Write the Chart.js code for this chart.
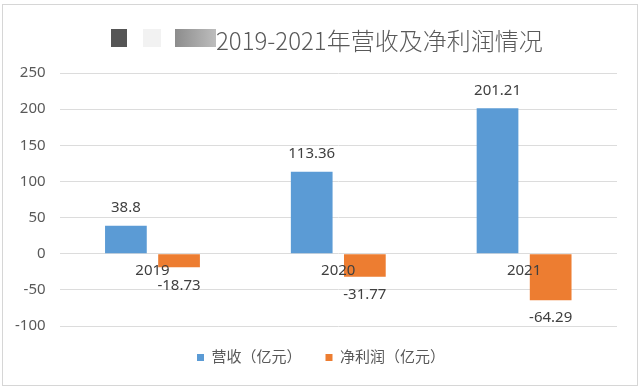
<!DOCTYPE html>
<html>
<head>
<meta charset="utf-8">
<script src="https://cdn.jsdelivr.net/npm/chart.js@4.4.0/dist/chart.umd.min.js"></script>
<style>
    html, body { margin: 0; padding: 0; background: #fff; }
    #wrap { position: relative; width: 640px; height: 389px; overflow: hidden; }
    #frame { position: absolute; left: 2px; top: 4px; width: 634px; height: 380px; border: 1px solid #d6d6d6; pointer-events: none; }
    #title { position: absolute; left: 216px; top: 24px; font: 300 24px "Noto Sans CJK SC", "Noto Sans", sans-serif; color: #595959; line-height: 32px; white-space: nowrap; }
    .mask { position: absolute; top: 29px; height: 18px; }
</style>
</head>
<body>
<div id="wrap">
    <canvas id="chart" width="640" height="389"></canvas>
    <div class="mask" style="left:111px;width:16px;background:#555;"></div>
    <div class="mask" style="left:143px;width:18px;background:#f2f2f2;"></div>
    <div class="mask" style="left:175px;width:41px;background:linear-gradient(90deg,#8c8c8c,#bdbdbd);"></div>
    <div id="title">2019-2021年营收及净利润情况</div>
    <div id="frame"></div>
</div>
<script>
// 数据
const years = ['2019', '2020', '2021'];
const revenue = [38.8, 113.36, 201.21];
const netProfit = [-18.73, -31.77, -64.29];
const seriesNames = ['营收（亿元）', '净利润（亿元）'];

const FONT = '"Noto Sans", "Noto Sans CJK SC", sans-serif';

// 柱子上方/下方的数值标签
const valueLabels = {
    id: 'valueLabels',
    afterDatasetsDraw(chart) {
        const ctx = chart.ctx;
        ctx.save();
        ctx.font = '15px ' + FONT;
        ctx.fillStyle = '#404040';
        ctx.textAlign = 'center';
        ctx.textBaseline = 'middle';
        chart.data.datasets.forEach((ds, i) => {
            chart.getDatasetMeta(i).data.forEach((bar, j) => {
                const v = ds.data[j];
                const y = v >= 0 ? bar.y - 18 : bar.y + 18;
                ctx.fillText(String(v), bar.x, y);
            });
        });
        ctx.restore();
    }
};

// 图例整体右移一点
const legendShift = {
    id: 'legendShift',
    afterLayout(chart) {
        if (chart.legend) {
            chart.legend.left += 12;
            chart.legend.right += 12;
        }
    }
};

new Chart(document.getElementById('chart'), {
    type: 'bar',
    data: {
        labels: years,
        datasets: [
            { label: seriesNames[0], data: revenue, backgroundColor: '#5B9BD5', barPercentage: 0.785, categoryPercentage: 0.572 },
            { label: seriesNames[1], data: netProfit, backgroundColor: '#ED7D31', barPercentage: 0.785, categoryPercentage: 0.572 }
        ]
    },
    options: {
        responsive: false,
        animation: false,
        layout: { padding: { top: 73, left: 1, right: 23, bottom: 14 } },
        plugins: {
            title: { display: false },
            tooltip: { enabled: false },
            legend: {
                position: 'bottom',
                labels: {
                    boxWidth: 7, boxHeight: 7, padding: 24,
                    color: '#595959',
                    font: { size: 15, family: FONT }
                }
            }
        },
        scales: {
            x: {
                position: { y: 0 },
                grid: { display: false },
                border: { display: false },
                ticks: { z: 1, color: '#404040', padding: 0, font: { size: 15, family: FONT } }
            },
            y: {
                min: -100, max: 250,
                ticks: { stepSize: 50, color: '#595959', padding: 14, font: { size: 15, family: FONT } },
                grid: { color: '#dcdcdc', drawTicks: false },
                border: { display: false }
            }
        }
    },
    plugins: [valueLabels, legendShift]
});
</script>
</body>
</html>
